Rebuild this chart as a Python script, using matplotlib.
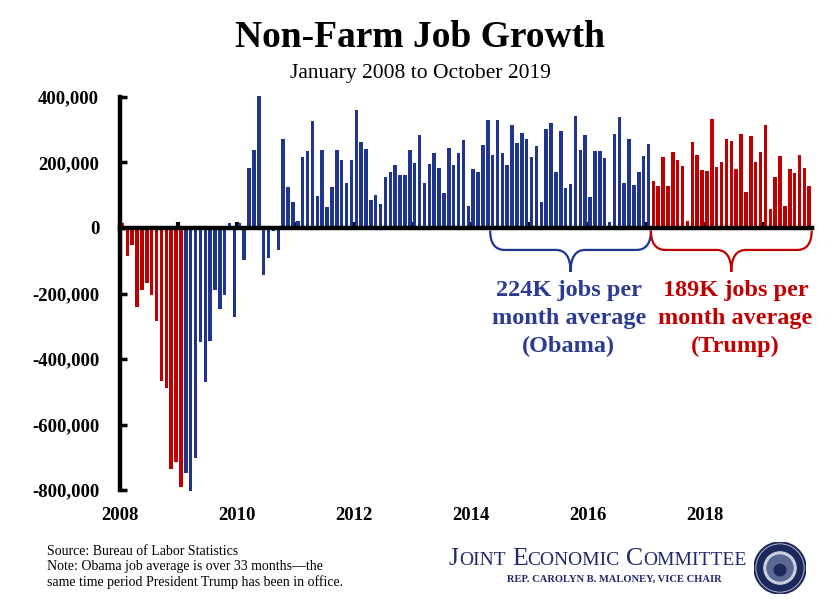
import matplotlib
matplotlib.use('Agg')
import matplotlib.pyplot as plt
import matplotlib.patches as mpatches
from matplotlib.path import Path
from matplotlib.ticker import FuncFormatter
import numpy as np
import pandas as pd

# monthly change in non-farm payrolls, thousands
bush_jobs = [15, -85, -51, -242, -189, -169, -204, -284, -467, -490, -735, -714,
             -791]
obama_jobs = [
    -748, -804, -701, -348, -470, -346, -188, -247, -204, 15, -272,          # 2009 Feb-Dec
    14, -97, 183, 239, 402, -142, -92, -8, -68, 273, 125, 78,                 # 2010
    22, 218, 236, 326, 97, 239, 63, 124, 239, 208, 136, 208,                  # 2011
    359, 264, 241, 84, 102, 74, 155, 171, 191, 161, 161, 239,                 # 2012
    197, 283, 138, 194, 228, 183, 108, 244, 192, 228, 270, 68,                # 2013
    179, 171, 252, 331, 224, 329, 230, 191, 313, 261, 289, 272,               # 2014
    217, 249, 78, 302, 322, 171, 297, 122, 134, 341, 238, 283,                # 2015
    94, 236, 236, 214, 18, 286, 339, 137, 272, 130, 171, 220,                 # 2016
    255,                                                                      # 2017 Jan
]
trump_jobs = [
    145, 129, 216, 129, 233, 208, 188, 21, 264, 222, 177,                     # 2017 Feb-Dec
    174, 334, 185, 200, 273, 265, 180, 286, 110, 280, 200, 231,               # 2018
    313, 58, 156, 219, 66, 180, 169, 222, 183, 129,                           # 2019 Jan-Oct
]

year_ticks = list(range(2008, 2020))
year_labels = list(range(2008, 2019, 2))
y_ticks = [-800000, -600000, -400000, -200000, 0, 200000, 400000]

BLUE = '#1f3590'
RED = '#c00000'
NAVY = '#1f2a6b'

plt.rcParams['font.family'] = ['Liberation Serif', 'DejaVu Serif']


def decimal_months(start, n):
    d = pd.date_range(start, periods=n, freq='MS')
    return np.asarray(d.year + (d.month - 0.5) / 12.0)


def brace(ax, x0, x1, ytop, ymid, ytip, r, color):
    xm = (x0 + x1) / 2
    verts = [(x0, ytop), (x0, ymid), (x0 + r, ymid),
             (xm - r, ymid), (xm, ymid), (xm, ytip),
             (xm, ymid), (xm + r, ymid),
             (x1 - r, ymid), (x1, ymid), (x1, ytop)]
    codes = [Path.MOVETO, Path.CURVE3, Path.CURVE3,
             Path.LINETO, Path.CURVE3, Path.CURVE3,
             Path.CURVE3, Path.CURVE3,
             Path.LINETO, Path.CURVE3, Path.CURVE3]
    patch = mpatches.PathPatch(Path(verts, codes), fill=False, edgecolor=color,
                               lw=1.6, clip_on=False, zorder=4)
    ax.add_patch(patch)


def small_caps(fig, x_px, y, words, big, small, color):
    renderer = fig.canvas.get_renderer()
    W = fig.get_figwidth() * fig.dpi
    for word in words:
        for piece, size in ((word[0], big), (word[1:], small)):
            t = fig.text(x_px / W, y, piece, fontsize=size, color=color,
                         ha='left', va='baseline')
            x_px += t.get_window_extent(renderer).width
        x_px += small * 0.45


fig = plt.figure(figsize=(8.37, 6.10), dpi=100)
ax = fig.add_axes([0.1434, 0.1967, 0.8268, 0.6443])

x_bush = decimal_months('2008-01', len(bush_jobs))
x_obama = decimal_months('2009-02', len(obama_jobs))
x_trump = decimal_months('2017-02', len(trump_jobs))

w = 0.06
ax.bar(x_bush, np.array(bush_jobs) * 1000, width=w, color=RED, clip_on=False, zorder=2)
ax.bar(x_obama, np.array(obama_jobs) * 1000, width=w, color=BLUE, clip_on=False, zorder=2)
ax.bar(x_trump, np.array(trump_jobs) * 1000, width=w, color=RED, clip_on=False, zorder=2)

ax.set_xlim(2008, 2019.84)
ax.set_ylim(-800000, 400000)

for side in ('top', 'right'):
    ax.spines[side].set_visible(False)
ax.spines['bottom'].set_position(('data', 0))
ax.spines['bottom'].set_linewidth(3.2)
ax.spines['bottom'].set_zorder(5)
ax.spines['left'].set_linewidth(3.2)

ax.set_xticks(year_ticks)
ax.tick_params(axis='x', direction='in', length=4, width=3, labelbottom=False)
ax.set_yticks(y_ticks)
ax.yaxis.set_major_formatter(FuncFormatter(lambda v, p: f'{v:,.0f}'))
ax.tick_params(axis='y', direction='in', length=5, width=2.5, pad=15, labelsize=13.5)
for lab in ax.get_yticklabels():
    lab.set_fontweight('bold')

sec = ax.secondary_xaxis('bottom')
sec.spines['bottom'].set_visible(False)
sec.set_xticks(year_labels, labels=[str(y) for y in year_labels], fontweight='bold')
sec.tick_params(length=0, pad=12, labelsize=13.5)

# braces and averages
brace(ax, 2014 + 4 / 12, 2017 + 1 / 12, -8000, -67000, -134000, 0.25, BLUE)
brace(ax, 2017 + 1 / 12, 2019 + 10 / 12, -8000, -67000, -134000, 0.25, RED)
ax.text(2015.68, -276000, '224K jobs per\nmonth average\n(Obama)', color='#2b3a92',
        fontsize=17.5, fontweight='bold', ha='center', va='center', linespacing=1.45)
ax.text(2018.53, -276000, '189K jobs per\nmonth average\n(Trump)', color=RED,
        fontsize=17.5, fontweight='bold', ha='center', va='center', linespacing=1.45)

# titles
fig.text(0.502, 0.939, 'Non-Farm Job Growth', ha='center', va='center',
         fontsize=27, fontweight='bold')
fig.text(0.502, 0.880, 'January 2008 to October 2019', ha='center', va='center',
         fontsize=15.5)

# footer
fig.text(47 / 837, 1 - 567 / 610,
         'Source: Bureau of Labor Statistics\n'
         'Note: Obama job average is over 33 months\u2014the\n'
         'same time period President Trump has been in office.',
         ha='left', va='center', fontsize=10, linespacing=1.22)

small_caps(fig, 449, 1 - 565 / 610, ['JOINT', 'ECONOMIC', 'COMMITTEE'], 18.5, 14, NAVY)
fig.text(614 / 837, 1 - 579 / 610, 'REP. CAROLYN B. MALONEY, VICE CHAIR', ha='center',
         va='center', fontsize=7.6, fontweight='bold', color=NAVY)

# congressional seal (simplified)
seal = fig.add_axes([754 / 837, 1 - 594 / 610, 52 / 837, 52 / 610])
seal.set_xlim(-1, 1)
seal.set_ylim(-1, 1)
seal.set_aspect('equal')
seal.axis('off')
seal.add_patch(mpatches.Circle((0, 0), 1.0, color='#1d2a5c'))
seal.add_patch(mpatches.Circle((0, 0), 0.93, fill=False, ec='#c8cde0', lw=0.6))
seal.add_patch(mpatches.Circle((0, 0), 0.62, color='#c9cfe0'))
seal.add_patch(mpatches.Circle((0, 0), 0.5, color='#5b6894'))
seal.add_patch(mpatches.Circle((0, -0.08), 0.22, color='#1d2a5c'))

fig.savefig('out.png', dpi=100)
